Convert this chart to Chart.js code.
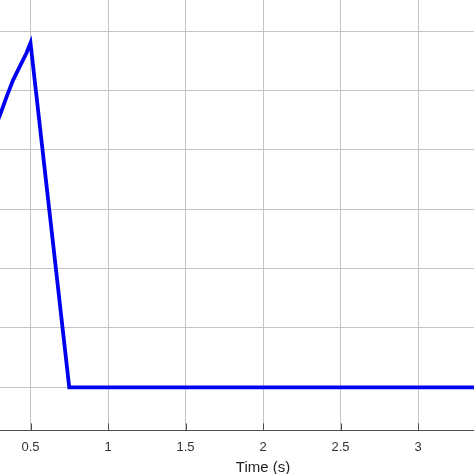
<!DOCTYPE html>
<html>
<head>
<meta charset="utf-8">
<script src="https://cdn.jsdelivr.net/npm/chart.js@4"></script>
<style>
  html, body { margin: 0; padding: 0; background: #ffffff; overflow: hidden; }
  #wrap { position: absolute; left: -47px; top: 0; width: 620px; height: 474px; }
</style>
</head>
<body>
<div id="wrap"><canvas id="c"></canvas></div>
<script>
// Data
const timeS  = [0.25, 0.303, 0.345, 0.387, 0.432, 0.474, 0.5, 0.75, 4.0];
const signal = [4.23, 4.585, 4.888, 5.17, 5.41, 5.63, 5.80, 0.0, 0.0];
const xTickValues = [0.5, 1, 1.5, 2, 2.5, 3, 3.5];
const xTickLabels = ['0.5', '1', '1.5', '2', '2.5', '3', '3.5'];
const yTickValues = [0, 1, 2, 3, 4, 5, 6];
const xTitle = 'Time (s)';

const points = timeS.map((t, i) => ({ x: t, y: signal[i] }));

const innerTicks = {
  id: 'innerTicks',
  afterDatasetsDraw(chart) {
    const ctx = chart.ctx;
    const xs = chart.scales.x;
    const bottom = chart.chartArea.bottom;
    ctx.save();
    ctx.strokeStyle = '#4d4d4d';
    ctx.lineWidth = 1;
    xTickValues.forEach(v => {
      const px = Math.round(xs.getPixelForValue(v)) + 0.5;
      ctx.beginPath();
      ctx.moveTo(px, bottom);
      ctx.lineTo(px, bottom - 7);
      ctx.stroke();
    });
    ctx.restore();
  }
};

new Chart(document.getElementById('c'), {
  type: 'line',
  data: {
    datasets: [{
      data: points,
      borderColor: '#0000f0',
      borderWidth: 3.8,
      pointRadius: 0,
      tension: 0,
      fill: false
    }]
  },
  options: {
    responsive: true,
    maintainAspectRatio: false,
    animation: false,
    devicePixelRatio: 1,
    layout: { padding: { left: 0, right: 0, top: 0, bottom: 0 } },
    plugins: { legend: { display: false }, tooltip: { enabled: false }, title: { display: false } },
    scales: {
      x: {
        type: 'linear',
        min: 0,
        max: 4,
        afterBuildTicks: s => { s.ticks = xTickValues.map(v => ({ value: v })); },
        ticks: {
          callback: (v) => { const i = xTickValues.indexOf(v); return i >= 0 ? xTickLabels[i] : ''; },
          color: '#333333',
          font: { family: 'Liberation Sans, Arial, sans-serif', size: 13 },
          padding: 9,
          maxRotation: 0,
          autoSkip: false
        },
        grid: { color: '#c4c4c4', lineWidth: 1, drawTicks: false },
        border: { display: true, color: '#4d4d4d', width: 1 },
        title: {
          display: true,
          text: xTitle,
          color: '#222222',
          font: { family: 'Liberation Sans, Arial, sans-serif', size: 15, lineHeight: 1 },
          padding: { top: -3.5, bottom: -1.5 }
        }
      },
      y: {
        type: 'linear',
        min: -0.7247,
        max: 6.522,
        afterBuildTicks: s => { s.ticks = yTickValues.map(v => ({ value: v })); },
        ticks: { display: false },
        grid: { color: '#c4c4c4', lineWidth: 1, drawTicks: false },
        border: { display: false }
      }
    }
  },
  plugins: [innerTicks]
});
</script>
</body>
</html>
